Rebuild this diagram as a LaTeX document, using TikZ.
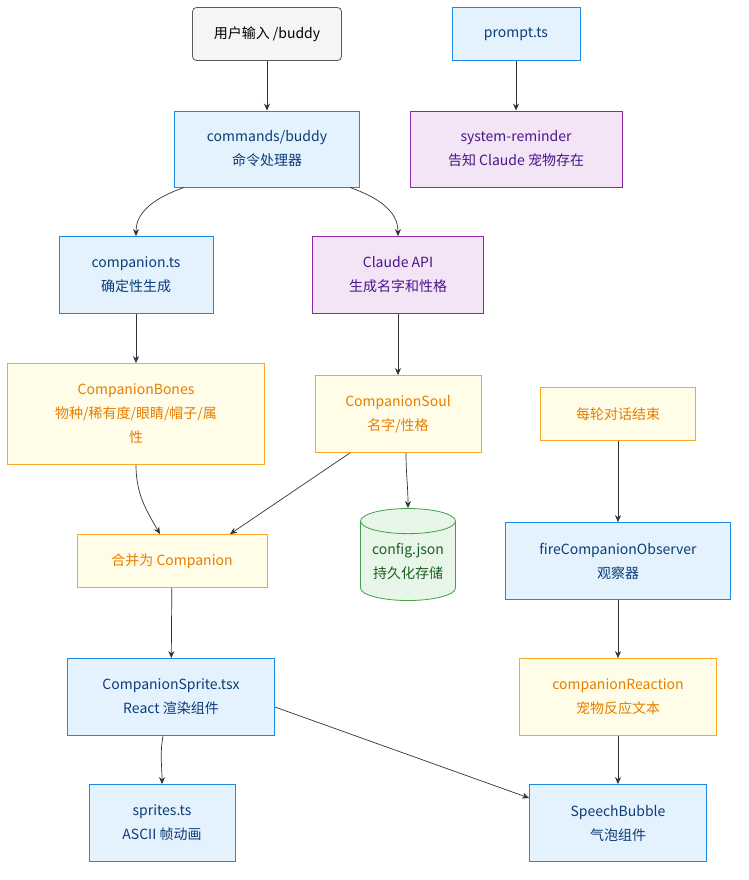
\documentclass[tikz,border=0pt]{standalone}
\usepackage{fontspec}
\setmainfont{Noto Sans CJK SC}
\usetikzlibrary{arrows.meta,shapes.geometric}
\definecolor{bluefill}{HTML}{E3F2FD}
\definecolor{blueline}{HTML}{1E88E5}
\definecolor{bluetext}{HTML}{0D3C78}
\definecolor{purfill}{HTML}{F3E5F5}
\definecolor{purline}{HTML}{8E24AA}
\definecolor{purtext}{HTML}{4A148C}
\definecolor{yelfill}{HTML}{FFFDE7}
\definecolor{yelline}{HTML}{F9A825}
\definecolor{yeltext}{HTML}{E67E00}
\definecolor{grnfill}{HTML}{E8F5E9}
\definecolor{grnline}{HTML}{43A047}
\definecolor{grntext}{HTML}{1B5E20}
\tikzset{
  box/.style={draw, line width=0.8pt, align=center, inner sep=0pt,
    font=\fontsize{14}{24}\selectfont},
  gray/.style={box, fill=gray!8, draw=gray!70!black, rounded corners=4pt},
  blue/.style={box, fill=bluefill, draw=blueline, text=bluetext},
  purple/.style={box, fill=purfill, draw=purline, text=purtext},
  yellow/.style={box, fill=yelfill, draw=yelline, text=yeltext},
  green/.style={box, fill=grnfill, draw=grnline, text=grntext},
  link/.style={-{Stealth[length=7pt,width=6pt]}, line width=0.7pt, black!80},
}
\begin{document}
\begin{tikzpicture}[x=1pt,y=-1pt]
\useasboundingbox[fill=white] (0,0) rectangle (748,880);

\node[gray, minimum width=149pt, minimum height=53pt] (input) at (267,34) {用户输入 /buddy};
\node[blue, minimum width=128pt, minimum height=53pt] (prompt) at (516,34) {prompt.ts};
\node[blue, minimum width=185pt, minimum height=76pt] (cmd) at (267,149) {commands/buddy\\命令处理器};
\node[purple, minimum width=212pt, minimum height=76pt] (remind) at (516,149) {system-reminder\\告知 Claude 宠物存在};
\node[blue, minimum width=154pt, minimum height=77pt] (comp) at (136,275) {companion.ts\\确定性生成};
\node[purple, minimum width=171pt, minimum height=77pt] (api) at (398,275) {Claude API\\生成名字和性格};
\node[yellow, minimum width=257pt, minimum height=101pt] (bones) at (136,414) {CompanionBones\\物种/稀有度/眼睛/帽子/属\\性};
\node[yellow, minimum width=166pt, minimum height=77pt] (soul) at (398,414) {CompanionSoul\\名字/性格};
\node[yellow, minimum width=155pt, minimum height=53pt] (turn) at (618,414) {每轮对话结束};
\node[green, cylinder, shape border rotate=90, aspect=0.35, minimum width=95pt, minimum height=92pt] (config) at (408,561) {config.json\\持久化存储};
\node[yellow, minimum width=190pt, minimum height=53pt] (merge) at (172,561) {合并为 Companion};
\node[blue, minimum width=225pt, minimum height=77pt] (observer) at (618,561) {fireCompanionObserver\\观察器};
\node[blue, minimum width=207pt, minimum height=77pt] (sprite) at (171,697) {CompanionSprite.tsx\\React 渲染组件};
\node[yellow, minimum width=197pt, minimum height=77pt] (react) at (618,697) {companionReaction\\宠物反应文本};
\node[blue, minimum width=146pt, minimum height=77pt] (sprites) at (162,823) {sprites.ts\\ASCII 帧动画};
\node[blue, minimum width=177pt, minimum height=77pt] (bubble) at (618,823) {SpeechBubble\\气泡组件};

\draw[link] (input) -- (cmd);
\draw[link] (prompt) -- (remind);
\draw[link] (cmd.south west) ++(10,0) to[out=200,in=90] (comp.north);
\draw[link] (cmd.south east) ++(-10,0) to[out=-20,in=90] (api.north);
\draw[link] (comp) -- (bones);
\draw[link] (api) -- (soul);
\draw[link] (bones.south) to[out=-90,in=120] ([xshift=-12pt]merge.north);
\draw[link] ([xshift=-48pt]soul.south) -- ([xshift=58pt]merge.north);
\draw[link] ([xshift=8pt]soul.south) to[out=-90,in=90] (config.top);
\draw[link] (turn) -- (observer);
\draw[link] (merge) -- (sprite);
\draw[link] (observer) -- (react);
\draw[link] ([xshift=-8pt]sprite.south) to[out=-100,in=90] (sprites.north);
\draw[link] ([yshift=-10pt]sprite.east) -- ([yshift=25pt]bubble.west);
\draw[link] (react) -- (bubble);
\end{tikzpicture}
\end{document}
